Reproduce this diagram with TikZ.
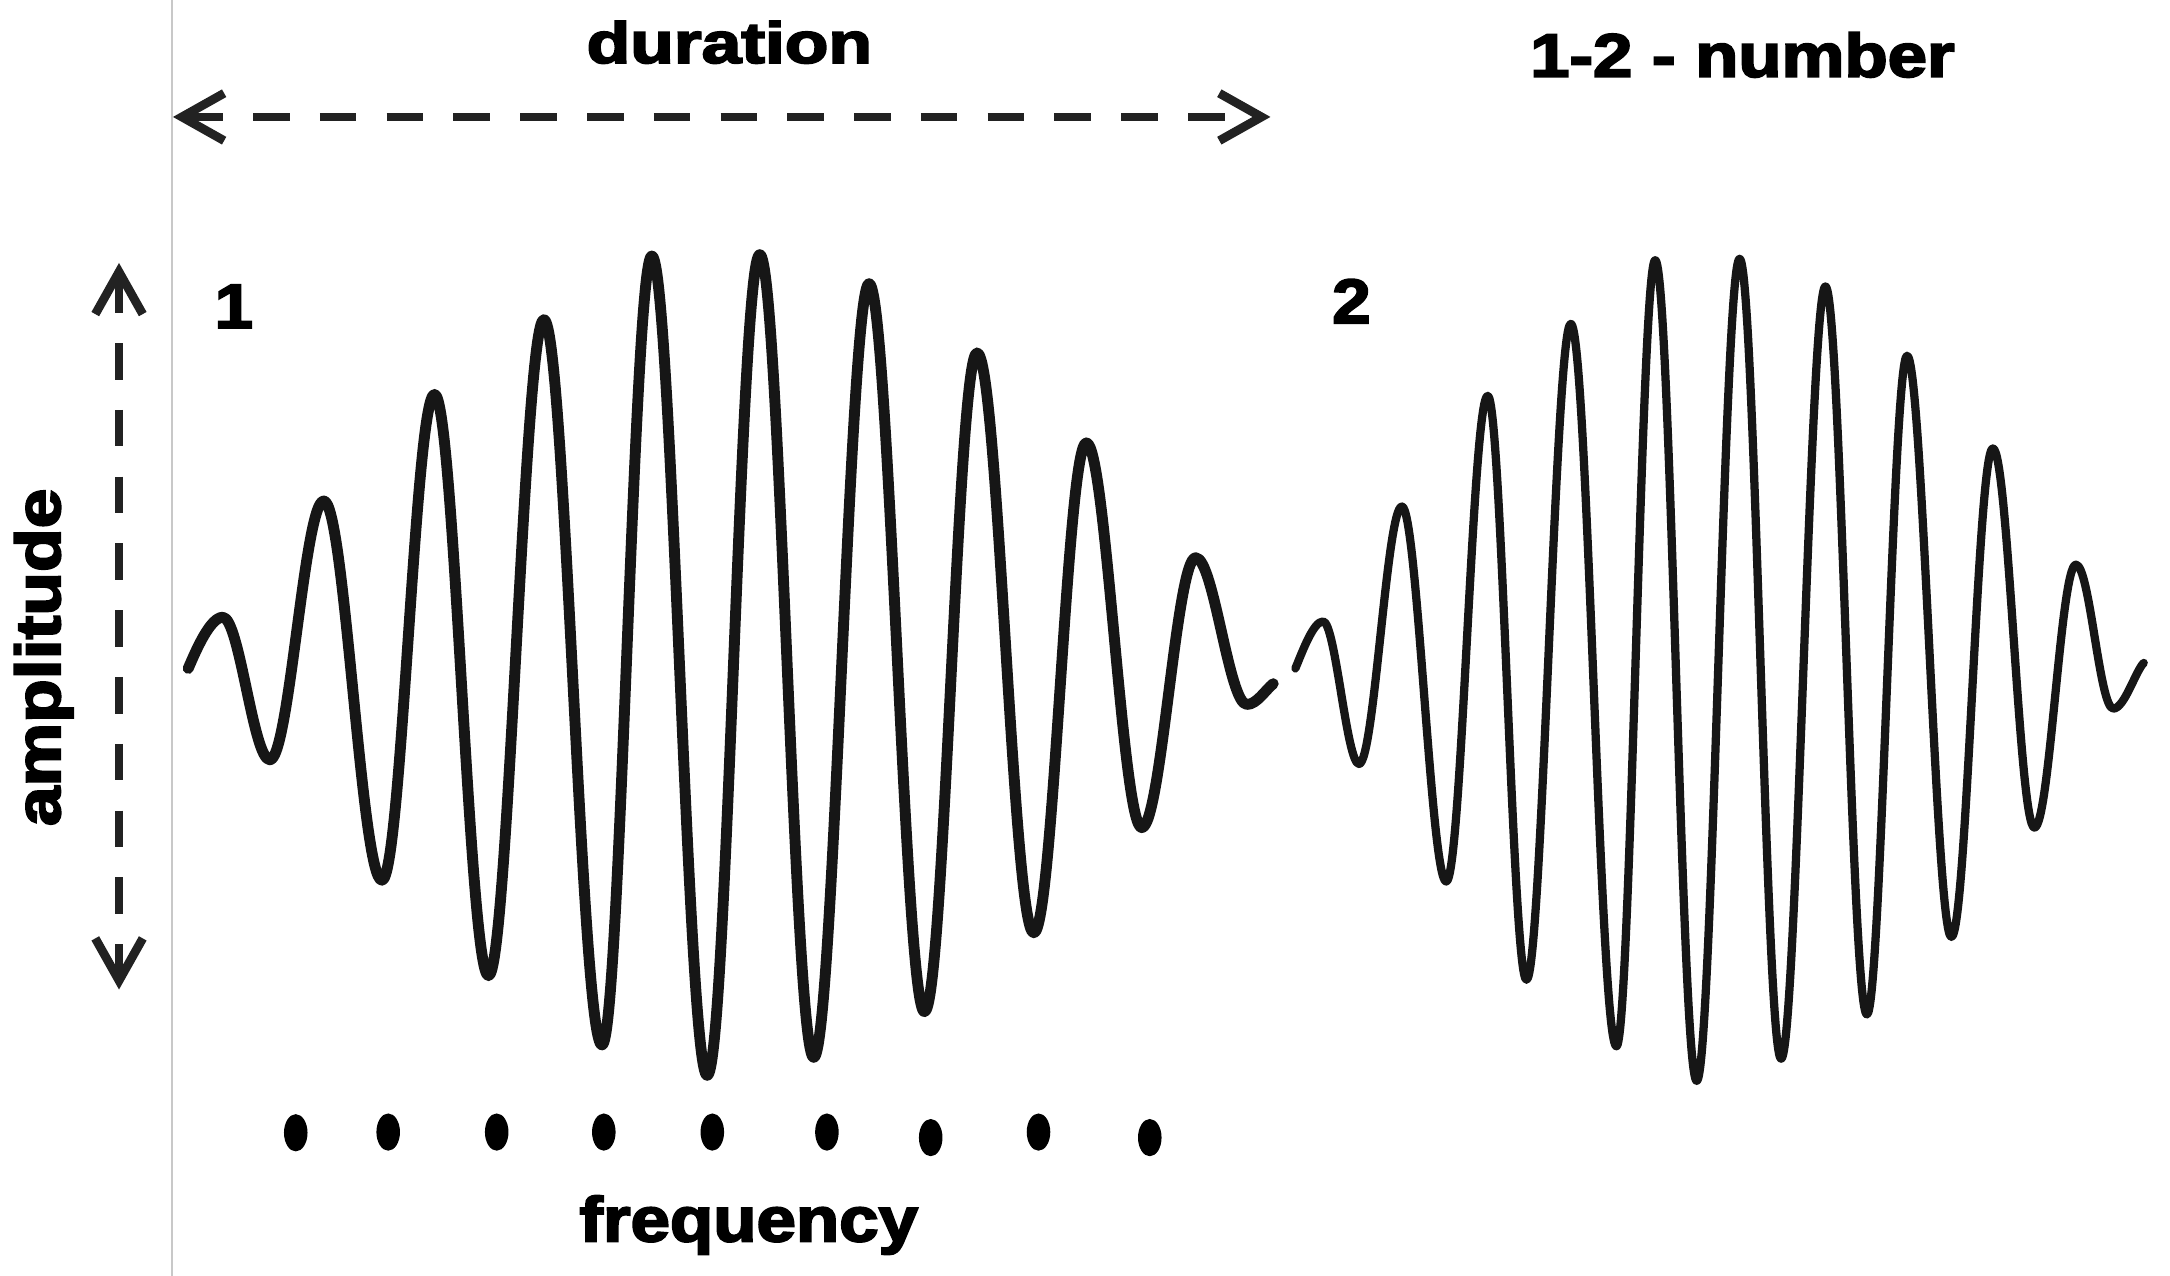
\documentclass[tikz,border=0pt]{standalone}
\usepackage{fontspec}
\usepackage{graphicx}
\setmainfont{Liberation Sans}
\newfontfamily\lblfont{Liberation Sans}[BoldFeatures={FakeBold=3}]
\usetikzlibrary{arrows.meta,shapes.geometric}
\definecolor{ink}{HTML}{161616}
\definecolor{arrowink}{HTML}{222222}
\definecolor{rulegray}{HTML}{C8C8C8}
\newcommand\lbltext[3]{\scalebox{#2}[1]{\lblfont\bfseries\fontsize{#1}{#1}\selectfont #3}}
\tikzset{
  dasharrow/.style={arrowink, line width=2.5pt, dash pattern=on 10.4pt off 8.6pt,
    {Straight Barb[length=12pt,width=13.5pt,line width=2.5pt]}-{Straight Barb[length=12pt,width=13.5pt,line width=2.5pt]}},
  waveone/.style={ink, line width=3.1pt, line cap=round, line join=round},
  wavetwo/.style={ink, line width=2.35pt, line cap=round, line join=round},
  freqdot/.style={ellipse, fill=black, draw=none, inner sep=0pt, minimum width=6.7pt, minimum height=10.6pt},
  lbl/.style={inner sep=0pt, outer sep=0pt, text=black}
}
\begin{document}
\begin{tikzpicture}[x=0.013839cm, y=-0.013839cm]
\fill[white] (0,0) rectangle (1568,922);
\useasboundingbox (0,0) rectangle (1568,922);
% thin gray rule
\coordinate (ruletop) at (124.4,0);
\coordinate (rulebot) at (124.4,922);
\draw[rulegray, line width=0.45pt] (ruletop) -- (rulebot);
% labels
\node[lbl, anchor=base] (duration) at (527,45.5) {\lbltext{16.5}{1.23}{duration}};
\node[lbl, anchor=base] (number) at (1259,55.5) {\lbltext{17.5}{1.15}{1-2 - number}};
\node[lbl, anchor=base] (frequency) at (541,897) {\lbltext{18}{1.12}{frequency}};
\node[lbl, anchor=base, rotate=90] (amplitude) at (43.4,475) {\lbltext{18}{1.13}{amplitude}};
\node[lbl, anchor=base] (one) at (169,237) {\lbltext{17.9}{1.1}{1}};
\node[lbl, anchor=base] (two) at (976.5,233.5) {\lbltext{17.9}{1.1}{2}};
% arrows
\coordinate (durL) at (125,84.5);
\coordinate (durR) at (918,84.5);
\draw[dasharrow] (durL) -- (durR);
\coordinate (ampT) at (86,190);
\coordinate (ampB) at (86,715);
\draw[dasharrow] (ampT) -- (ampB);
% wave 1
\draw[waveone] (136,483)
 .. controls +(6,-14) and +(-9,0) .. (161,446)
 .. controls +(12,0) and +(-12,0) .. (195,549)
 .. controls +(14,0) and +(-14,0) .. (234,362)
 .. controls +(15,0) and +(-15,0) .. (276,636)
 .. controls +(14,0) and +(-14,0) .. (314,285)
 .. controls +(14,0) and +(-14,0) .. (353,705)
 .. controls +(14,0) and +(-14,0) .. (393,231)
 .. controls +(15,0) and +(-15,0) .. (435,755)
 .. controls +(13,0) and +(-13,0) .. (471,185)
 .. controls +(14,0) and +(-14,0) .. (511,777)
 .. controls +(14,0) and +(-14,0) .. (549,184)
 .. controls +(14,0) and +(-14,0) .. (588,764)
 .. controls +(14,0) and +(-14,0) .. (628,205)
 .. controls +(14,0) and +(-14,0) .. (668,731)
 .. controls +(14,0) and +(-14,0) .. (706,255)
 .. controls +(15,0) and +(-15,0) .. (747,674)
 .. controls +(14,0) and +(-14,0) .. (785,320)
 .. controls +(14,0) and +(-14,0) .. (825,598)
 .. controls +(14,0) and +(-14,0) .. (864,403)
 .. controls +(13,0) and +(-13,0) .. (901,509)
 .. controls +(7,0) and +(-6,5) .. (920,494);
% wave 2
\draw[wavetwo] (936,483)
 .. controls +(5,-12) and +(-7,0) .. (956,449)
 .. controls +(9,0) and +(-9,0) .. (982,552)
 .. controls +(11,0) and +(-11,0) .. (1013,366)
 .. controls +(11,0) and +(-11,0) .. (1045,637)
 .. controls +(11,0) and +(-11,0) .. (1075,286)
 .. controls +(10,0) and +(-10,0) .. (1103,708)
 .. controls +(11,0) and +(-11,0) .. (1135,234)
 .. controls +(12,0) and +(-12,0) .. (1168,756)
 .. controls +(10,0) and +(-10,0) .. (1196,188)
 .. controls +(11,0) and +(-11,0) .. (1226,781)
 .. controls +(11,0) and +(-11,0) .. (1257,187)
 .. controls +(11,0) and +(-11,0) .. (1287,765)
 .. controls +(11,0) and +(-11,0) .. (1319,207)
 .. controls +(11,0) and +(-11,0) .. (1349,733)
 .. controls +(10,0) and +(-10,0) .. (1378,257)
 .. controls +(11,0) and +(-11,0) .. (1410,677)
 .. controls +(11,0) and +(-11,0) .. (1440,324)
 .. controls +(11,0) and +(-11,0) .. (1470,598)
 .. controls +(11,0) and +(-11,0) .. (1500,408)
 .. controls +(10,0) and +(-10,0) .. (1527,512)
 .. controls +(8,0) and +(-6,6) .. (1549,479);
% frequency dots
\node[freqdot] (f1) at (213.7,818.5) {};
\node[freqdot] (f2) at (280.5,818) {};
\node[freqdot] (f3) at (358.9,818) {};
\node[freqdot] (f4) at (436.3,818) {};
\node[freqdot] (f5) at (514.7,818) {};
\node[freqdot] (f6) at (597.5,818) {};
\node[freqdot] (f7) at (672.5,822) {};
\node[freqdot] (f8) at (750.4,818) {};
\node[freqdot] (f9) at (830.8,822) {};
\end{tikzpicture}
\end{document}
